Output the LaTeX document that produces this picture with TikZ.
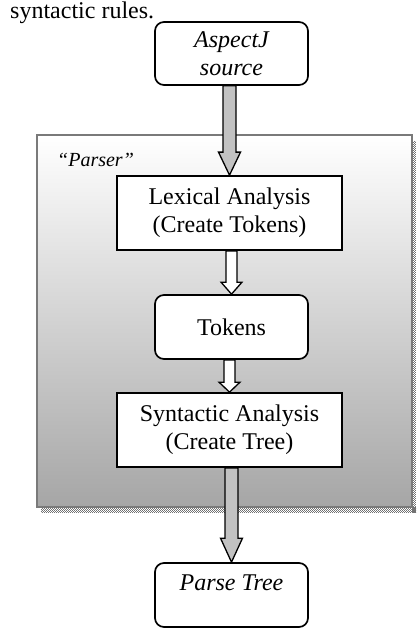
\documentclass[tikz,border=0pt]{standalone}
\usepackage{fontspec}
\setmainfont{Liberation Serif}
\usetikzlibrary{calc}
\tikzset{
  box/.style={draw=black, line width=1.7pt, fill=white, inner sep=0pt, align=center,
    font=\fontsize{24}{28}\selectfont},
  rbox/.style={box, rounded corners=9pt, minimum width=153pt},
  sbox/.style={box, minimum width=225pt, minimum height=74pt},
  greyarrow/.style={draw=black, line width=1.3pt, fill=black!24, line join=miter},
  whitearrow/.style={draw=black, line width=1.3pt, fill=white, line join=miter},
  frame/.style={draw=black!52, line width=2pt, top color=white, bottom color=black!35},
  shadowline/.style={draw=black!55, line width=1pt, dash pattern=on 1pt off 1pt},
}
\newcommand{\blockarrow}[6]{%
  \path[#6] let \p1=(#1.south), \p2=(#2.north) in
    (\x2-#3,\y1) -- (\x2-#3,\y2+#5) -- (\x2-#4,\y2+#5) -- (\x2,\y2)
    -- (\x2+#4,\y2+#5) -- (\x2+#3,\y2+#5) -- (\x2+#3,\y1) -- cycle;}
\begin{document}
\begin{tikzpicture}[x=1pt,y=1pt]
\useasboundingbox (0,0) rectangle (416,-628);
\begin{scope}
\clip (0,0) rectangle (416,-628);
% caption fragment
\node[anchor=base west, inner sep=0pt, font=\fontsize{24}{28}\selectfont] (cap) at (10,-19) {syntactic rules.};
% shadow of parser frame
\foreach \i in {0,...,5} {
  \draw[shadowline, dash phase=\i pt] (41,-507.5-\i) -- (417,-507.5-\i);
}
\foreach \i in {0,...,3} {
  \draw[shadowline, dash phase=\i pt] (412.5+\i,-141) -- (412.5+\i,-513);
}
% parser frame
\path[frame] (37,-135) rectangle (412,-507);
\coordinate (frameNW) at (57,-167);
\node[anchor=base west, inner sep=0pt, font=\fontsize{20}{24}\selectfont\itshape] (plabel) at (frameNW) {“Parser”};
% nodes
\node[rbox, minimum height=63pt] (src) at (231.5,-53.5) {\itshape AspectJ\\\itshape source};
\node[sbox] (lex) at (229.5,-213) {Lexical Analysis\\(Create Tokens)};
\node[rbox, minimum height=64pt] (tok) at (231.5,-327) {Tokens};
\node[sbox] (syn) at (229.5,-430) {Syntactic Analysis\\(Create Tree)};
\node[rbox, minimum height=64pt, text depth=30pt, text height=26pt] (pt) at (231.5,-595) {};
\node[anchor=base, inner sep=0pt, font=\fontsize{24}{28}\selectfont\itshape] (ptlabel) at (231.5,-590) {Parse Tree};
% arrows
\blockarrow{src}{lex}{6.5pt}{11pt}{23pt}{greyarrow}
\blockarrow{lex}{tok}{5.5pt}{10.5pt}{12pt}{whitearrow}
\blockarrow{tok}{syn}{5.5pt}{10.5pt}{10pt}{whitearrow}
\blockarrow{syn}{pt}{6.5pt}{11pt}{24pt}{greyarrow}
\end{scope}
\end{tikzpicture}
\end{document}
